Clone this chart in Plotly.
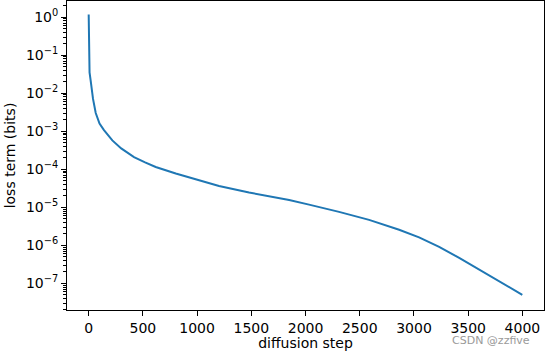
import plotly.graph_objects as go

# diffusion step and log10(loss term in bits)
steps = [0, 1, 8, 18, 40, 65, 100, 141, 218, 300, 418, 520, 618, 803, 925, 1018,
         1202, 1479, 1664, 1849, 2032, 2126, 2309, 2586, 2863, 3047, 3232,
         3417, 3601, 3785, 3999]
log_loss = [0.07, -1.22, -1.45, -1.66, -2.15, -2.52, -2.80, -2.97, -3.24, -3.45,
            -3.68, -3.82, -3.94, -4.11, -4.21, -4.29, -4.44, -4.61, -4.71, -4.81,
            -4.93, -4.99, -5.12, -5.33, -5.59, -5.79, -6.04, -6.33, -6.63,
            -6.94, -7.30]
loss = [10 ** v for v in log_loss]

x_ticks = [0, 500, 1000, 1500, 2000, 2500, 3000, 3500, 4000]
x_tick_labels = [str(v) for v in x_ticks]
y_exps = [0, -1, -2, -3, -4, -5, -6, -7]
y_ticks = [10.0 ** e for e in y_exps]
y_tick_labels = ["10<sup>%s</sup>" % (str(e).replace("-", "\u2212")) for e in y_exps]

FONT = "DejaVu Sans"
FS = 14

fig = go.Figure()
fig.add_trace(go.Scatter(x=steps, y=loss, mode="lines",
                         line=dict(color="#1f77b4", width=2), showlegend=False))

axis_common = dict(showline=True, linecolor="black", linewidth=1, mirror=True,
                   ticks="outside", ticklen=5, tickwidth=1, tickcolor="black",
                   showgrid=False, zeroline=False,
                   tickfont=dict(family=FONT, size=FS, color="black"))

L, R, T, B = 67, 2, 1, 41
fig.update_layout(
    width=546, height=351,
    margin=dict(l=L, r=R, t=T, b=B, autoexpand=False),
    plot_bgcolor="white", paper_bgcolor="white",
    font=dict(family=FONT, size=FS, color="black"),
    xaxis=dict(range=[-200, 4199], tickvals=x_ticks, ticktext=x_tick_labels,
               automargin=False,
               title=dict(text="diffusion step", standoff=8,
                          font=dict(family=FONT, size=FS, color="black")),
               **axis_common),
    yaxis=dict(type="log", range=[-7.70, 0.425], tickvals=y_ticks, ticktext=y_tick_labels,
               automargin=False,
               minor=dict(ticks="outside", ticklen=3, tickwidth=0.8, tickcolor="black",
                          dtick="D1", showgrid=False),
               title=dict(text="loss term (bits)", standoff=7,
                          font=dict(family=FONT, size=FS, color="black")),
               **axis_common),
)
plot_w = 546 - L - R
plot_h = 351 - T - B
fig.add_annotation(text="CSDN @zzfive", x=(532 - L) / plot_w, y=(351 - B - 340) / plot_h,
                   xref="paper", yref="paper", showarrow=False,
                   xanchor="right", yanchor="middle",
                   font=dict(family=FONT, size=11, color="#9a9a9a"))

fig.write_html("out.html")
